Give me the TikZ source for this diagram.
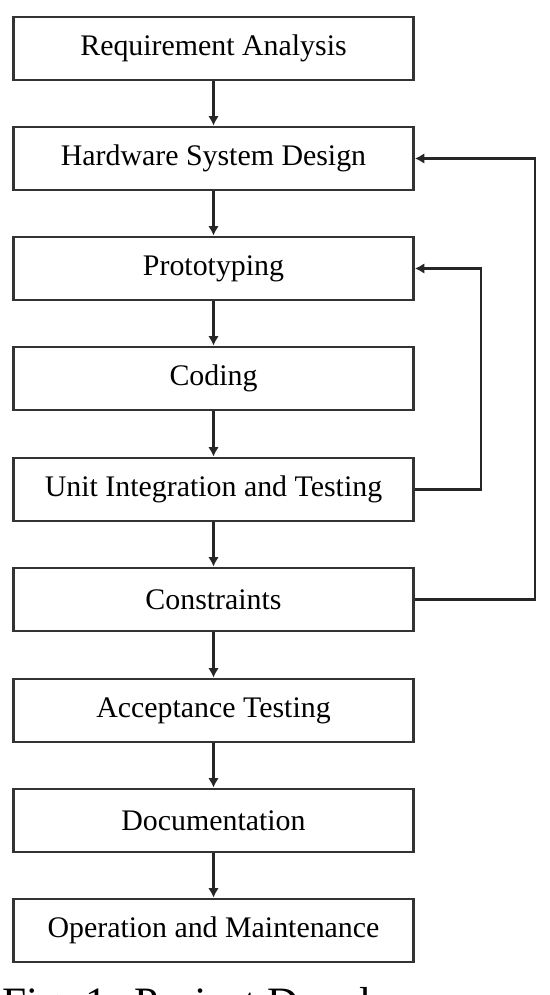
\documentclass[tikz,border=0pt]{standalone}
\usepackage{fontspec}
\setmainfont{Liberation Serif}
\usepackage{tikz}
\usetikzlibrary{arrows.meta}

\begin{document}
\begin{tikzpicture}[line width=2pt,
  stagebox/.style={draw=black!80, line width=2.4pt, minimum width=12.000cm, minimum height=1.890cm, inner sep=0pt,
    font=\fontsize{25.5}{29}\selectfont},
  flow/.style={draw=black!85, line width=2pt, -{Latex[length=8pt,width=9pt]}}]
\useasboundingbox (0.000,0.000) rectangle (16.470,29.850);
\node[stagebox] (req) at (6.405,28.395) {Requirement Analysis};
\node[stagebox] (hw) at (6.405,25.095) {Hardware System Design};
\node[stagebox] (proto) at (6.405,21.795) {Prototyping};
\node[stagebox] (code) at (6.405,18.495) {Coding};
\node[stagebox] (unit) at (6.405,15.165) {Unit Integration and Testing};
\node[stagebox] (cons) at (6.405,11.865) {Constraints};
\node[stagebox] (accept) at (6.405,8.535) {Acceptance Testing};
\node[stagebox] (doc) at (6.405,5.235) {Documentation};
\node[stagebox] (oper) at (6.405,1.935) {Operation and Maintenance};
\draw[flow] (req) -- (hw);
\draw[flow] (hw) -- (proto);
\draw[flow] (proto) -- (code);
\draw[flow] (code) -- (unit);
\draw[flow] (unit) -- (cons);
\draw[flow] (cons) -- (accept);
\draw[flow] (accept) -- (doc);
\draw[flow] (doc) -- (oper);
\draw[flow] (unit.east) -- ++(1.980,0.000) |- (proto.east);
\draw[flow] (cons.east) -- ++(3.600,0.000) |- (hw.east);
\begin{scope}
\clip (0.000,0.000) rectangle (16.470,29.850);
\node[anchor=base west, inner sep=0pt, font=\fontsize{37}{44}\selectfont] (caption) at (0.050,-0.690) {Fig. 1: Project Devel};
\end{scope}
\end{tikzpicture}
\end{document}
